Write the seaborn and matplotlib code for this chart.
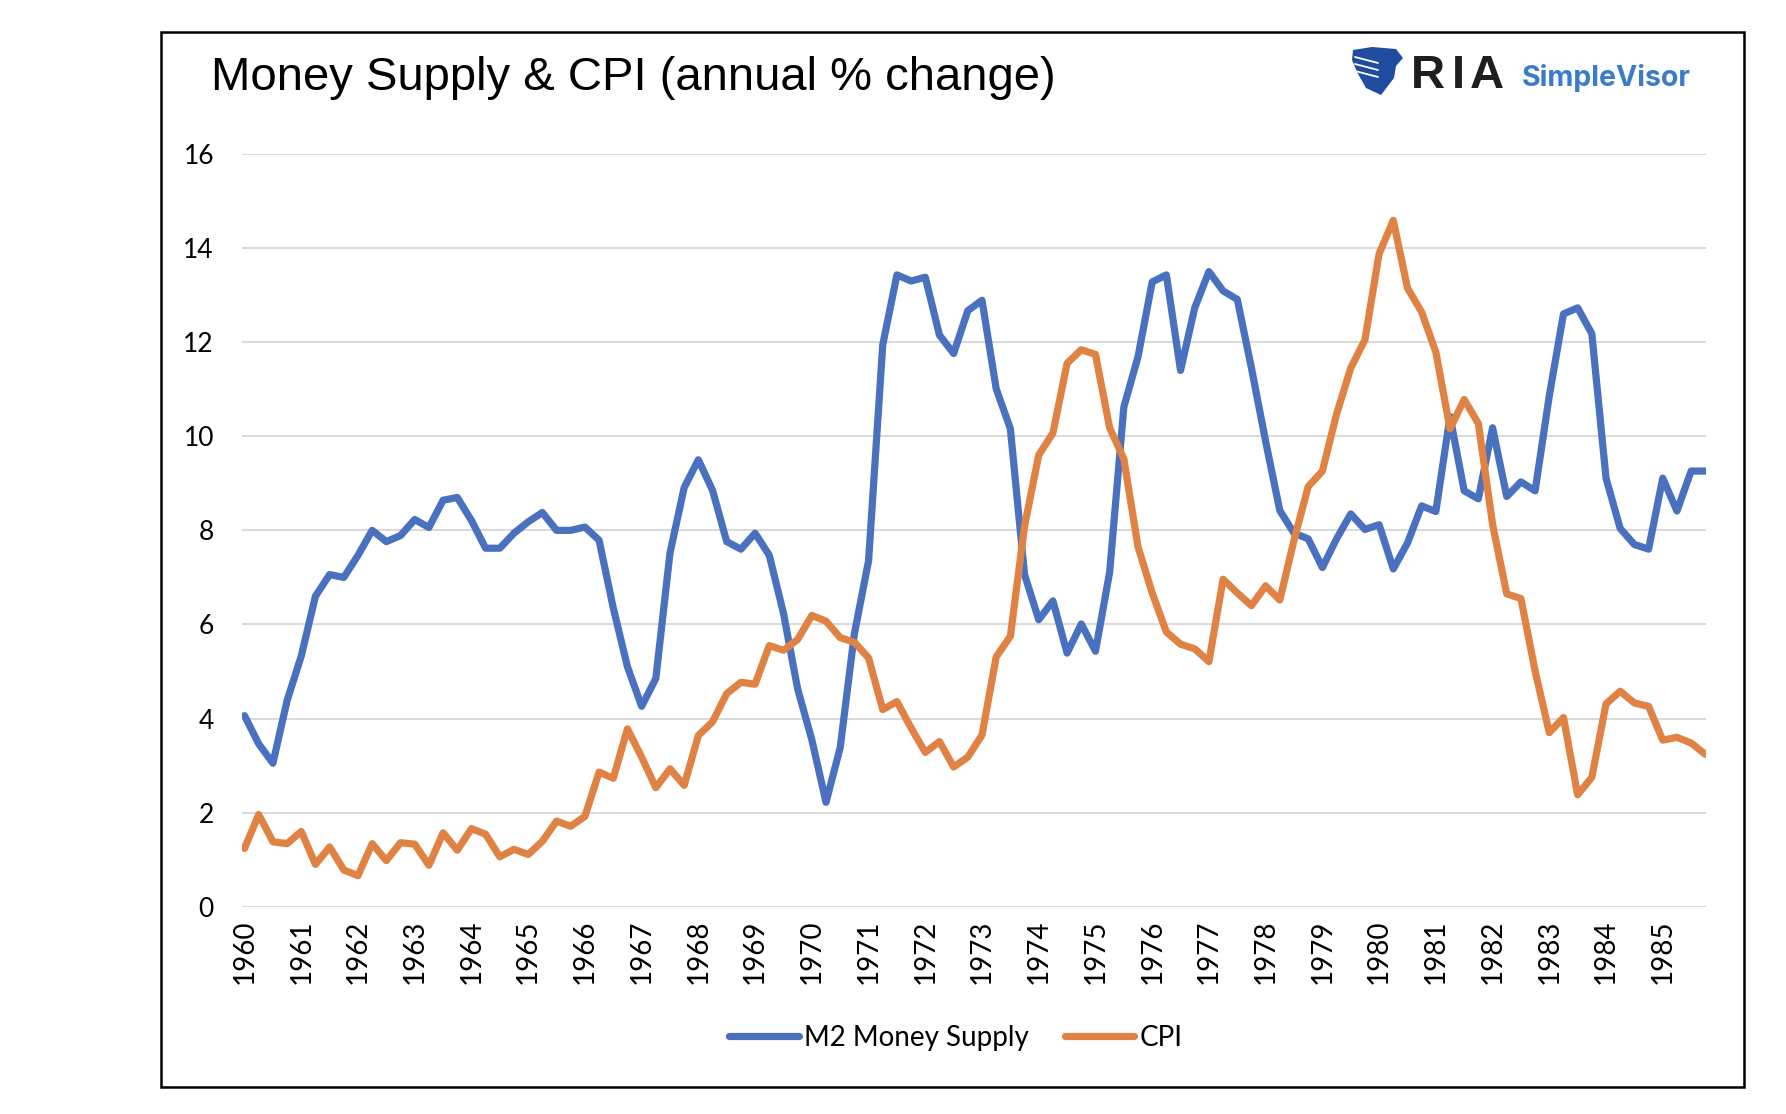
import matplotlib
matplotlib.use("Agg")
import matplotlib.pyplot as plt
from matplotlib.patches import Rectangle, Polygon
import seaborn as sns
import pandas as pd
import numpy as np

# quarterly annual % change, 1960Q1 - 1985Q4
m2_growth = [
    4.06, 3.46, 3.05, 4.38, 5.33, 6.60, 7.06, 7.00, 7.47, 8.00, 7.76, 7.89,
    8.23, 8.06, 8.64, 8.70, 8.21, 7.62, 7.62, 7.94, 8.18, 8.38, 8.00, 8.00,
    8.07, 7.79, 6.35, 5.10, 4.26, 4.85, 7.52, 8.91, 9.50, 8.85, 7.76, 7.60,
    7.94, 7.47, 6.24, 4.63, 3.55, 2.22, 3.38, 5.80, 7.35, 11.94, 13.43, 13.30,
    13.38, 12.15, 11.76, 12.67, 12.89, 11.01, 10.16, 7.06, 6.10, 6.50, 5.39, 6.01,
    5.43, 7.11, 10.62, 11.69, 13.28, 13.43, 11.40, 12.73, 13.50, 13.09, 12.91, 11.45,
    9.89, 8.42, 7.94, 7.82, 7.21, 7.82, 8.35, 8.02, 8.12, 7.18, 7.73, 8.52,
    8.40, 10.42, 8.84, 8.67, 10.18, 8.72, 9.03, 8.84, 10.86, 12.60, 12.73, 12.18,
    9.11, 8.04, 7.70, 7.60, 9.11, 8.41, 9.26, 9.26,
]
cpi_growth = [
    1.24, 1.96, 1.38, 1.34, 1.60, 0.90, 1.27, 0.78, 0.66, 1.34, 0.98, 1.36,
    1.33, 0.88, 1.57, 1.20, 1.66, 1.54, 1.06, 1.22, 1.11, 1.39, 1.82, 1.71,
    1.92, 2.86, 2.73, 3.78, 3.18, 2.53, 2.93, 2.58, 3.64, 3.93, 4.53, 4.77,
    4.73, 5.55, 5.45, 5.68, 6.19, 6.07, 5.72, 5.62, 5.29, 4.19, 4.36, 3.80,
    3.28, 3.51, 2.97, 3.18, 3.65, 5.31, 5.75, 8.09, 9.60, 10.07, 11.55, 11.84,
    11.74, 10.18, 9.52, 7.65, 6.67, 5.84, 5.58, 5.48, 5.21, 6.96, 6.67, 6.40,
    6.82, 6.52, 7.79, 8.93, 9.26, 10.47, 11.45, 12.05, 13.88, 14.59, 13.15, 12.64,
    11.79, 10.16, 10.78, 10.27, 8.13, 6.65, 6.55, 5.01, 3.70, 4.02, 2.38, 2.75,
    4.31, 4.58, 4.33, 4.26, 3.54, 3.60, 3.48, 3.24,
]
quarters = pd.period_range("1960Q1", "1985Q4", freq="Q")
year_labels = [str(y) for y in range(1960, 1986)]

W, H = 1786, 1114
blue, orange = "#4A71BF", "#E08244"

df = pd.DataFrame({
    "q": np.arange(len(quarters)),
    "M2 Money Supply": m2_growth,
    "CPI": cpi_growth,
})
long = df.melt(id_vars="q", var_name="series", value_name="pct")

sns.set_style("white")
plt.rcParams["font.family"] = ["Lato", "DejaVu Sans"]
plt.rcParams["text.color"] = "black"

fig = plt.figure(figsize=(W / 100, H / 100), dpi=100)
ax = fig.add_axes([241.7 / W, 1 - 906.7 / H, (1706 - 241.7) / W, (906.7 - 154) / H])

sns.lineplot(data=long, x="q", y="pct", hue="series",
             palette={"M2 Money Supply": blue, "CPI": orange},
             linewidth=5.2, ax=ax, legend=False)
for ln in ax.lines:
    ln.set_solid_capstyle("round")
    ln.set_solid_joinstyle("round")

ax.set_xlim(-0.2, len(quarters) - 0.95)
ax.set_ylim(0, 16)
ax.set_yticks(range(0, 17, 2))
ax.set_xticks(np.arange(0, len(quarters), 4))
ax.set_xticklabels(year_labels, rotation=90)
ax.yaxis.grid(True, color="#d9d9d9", linewidth=1.4)
ax.xaxis.grid(False)
ax.set_axisbelow(True)
for s in ax.spines.values():
    s.set_visible(False)
ax.tick_params(axis="y", length=0, pad=20, labelsize=19, colors="black")
ax.tick_params(axis="x", length=0, pad=9, labelsize=20, colors="black")
ax.set_xlabel("")
ax.set_ylabel("")

# legend
handles = [plt.Line2D([], [], color=blue, lw=5.2, solid_capstyle="round"),
           plt.Line2D([], [], color=orange, lw=5.2, solid_capstyle="round")]
fig.legend(handles, ["M2 Money Supply", "CPI"], loc="center",
           bbox_to_anchor=(956 / W, 1 - 1038 / H), ncol=2, frameon=False,
           fontsize=20, handlelength=2.5, handletextpad=0.2, columnspacing=1.3,
           labelcolor="black")

# title
fig.text(211 / W, 1 - 90 / H, "Money Supply & CPI (annual % change)",
         fontsize=34, family="Liberation Sans", color="black",
         va="baseline", ha="left")

# logo
def px(x, y):
    return (x / W, 1 - y / H)

shield = Polygon([px(1353, 50), px(1372, 47), px(1396, 49), px(1403, 58),
                  px(1396, 66), px(1394, 78), px(1381, 95), px(1366, 88),
                  px(1357, 72), px(1352, 60)],
                 closed=True, transform=fig.transFigure, facecolor="#1f4c9e",
                 edgecolor="none")
fig.patches.append(shield)
for y0 in (57, 64, 71):
    fig.lines.append(plt.Line2D([1355 / W, 1378 / W], [1 - y0 / H, 1 - (y0 + 6) / H],
                                transform=fig.transFigure, color="white", lw=1.3))
for letter, x0 in zip("RIA", (1411, 1452, 1470)):
    fig.text(x0 / W, 1 - 88 / H, letter, fontsize=34, family="Liberation Sans",
             fontweight="bold", color="#1e1e1e", va="baseline", ha="left")
fig.text(1522 / W, 1 - 86 / H, "SimpleVisor", fontsize=20.5, family="Inter",
         fontweight="bold", color="#3a7cc9", va="baseline", ha="left")

# outer frame
fig.patches.append(Rectangle((161 / W, 1 - 1087 / H), (1744 - 161) / W, (1087 - 32) / H,
                             transform=fig.transFigure, fill=False,
                             edgecolor="black", linewidth=1.8))

fig.savefig("out.png", dpi=100, facecolor="white")
